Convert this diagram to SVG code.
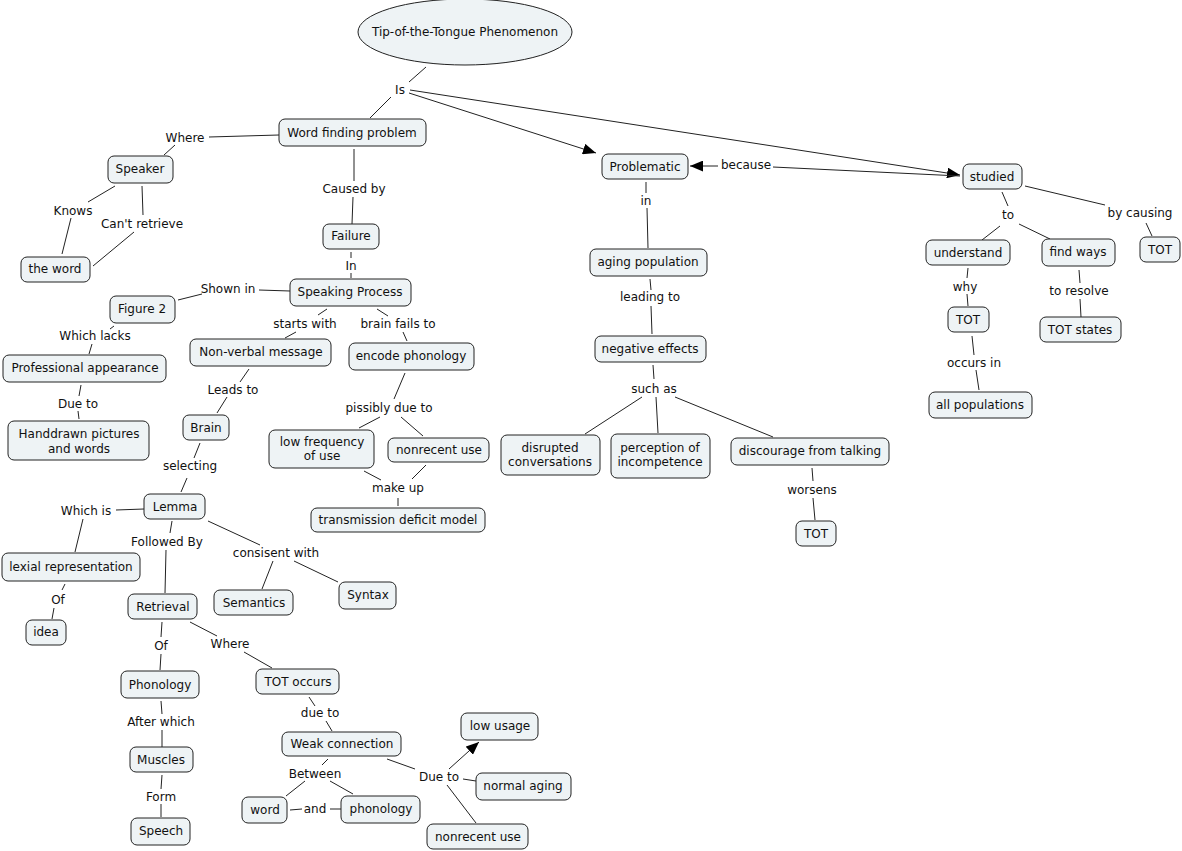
<svg xmlns="http://www.w3.org/2000/svg" width="1182" height="851" viewBox="0 0 1182 851">
<style>
.n{fill:#eef3f5;stroke:#222;stroke-width:1}
text{font-family:"DejaVu Sans",Verdana,sans-serif;font-size:12px;text-anchor:middle;fill:#111}
.c line{stroke:#222;stroke-width:1}
.a{marker-end:url(#arr)}
</style>
<defs>
<marker id="arr" viewBox="0 0 12 10" refX="12" refY="5" markerWidth="13" markerHeight="11" markerUnits="userSpaceOnUse" orient="auto">
<path d="M0,0 L12,5 L0,10 z" fill="#000"/>
</marker>
</defs>
<rect width="1182" height="851" fill="#fff"/>
<g class="c" id="connectors">
<line x1="426" y1="67" x2="409" y2="82"/>
<line x1="391" y1="97" x2="370" y2="118"/>
<line class="a" x1="409" y1="93" x2="596" y2="153"/>
<line class="a" x1="410" y1="90" x2="960" y2="175"/>
<line x1="279" y1="135" x2="209" y2="137"/>
<line x1="175" y1="145" x2="164" y2="155"/>
<line x1="354" y1="149" x2="354" y2="181"/>
<line x1="353" y1="197" x2="352" y2="224"/>
<line x1="115" y1="186" x2="88" y2="202"/>
<line x1="71" y1="218" x2="62" y2="254"/>
<line x1="142" y1="186" x2="143" y2="215"/>
<line x1="134" y1="232" x2="93" y2="266"/>
<line x1="351" y1="252" x2="351" y2="258"/>
<line x1="351" y1="273" x2="351" y2="278"/>
<line x1="290" y1="291" x2="259" y2="290"/>
<line x1="202" y1="294" x2="178" y2="300"/>
<line x1="114" y1="326" x2="110" y2="329"/>
<line x1="92" y1="344" x2="89" y2="354"/>
<line x1="81" y1="385" x2="79" y2="396"/>
<line x1="78" y1="411" x2="79" y2="419"/>
<line x1="327" y1="309" x2="318" y2="315"/>
<line x1="296" y1="332" x2="285" y2="338"/>
<line x1="377" y1="309" x2="388" y2="316"/>
<line x1="403" y1="332" x2="407" y2="341"/>
<line x1="249" y1="369" x2="240" y2="382"/>
<line x1="227" y1="397" x2="217" y2="413"/>
<line x1="405" y1="373" x2="394" y2="399"/>
<line x1="380" y1="417" x2="359" y2="428"/>
<line x1="401" y1="417" x2="423" y2="436"/>
<line x1="200" y1="443" x2="194" y2="458"/>
<line x1="187" y1="478" x2="181" y2="492"/>
<line x1="364" y1="471" x2="381" y2="480"/>
<line x1="426" y1="465" x2="412" y2="479"/>
<line x1="398" y1="498" x2="398" y2="506"/>
<line x1="144" y1="509" x2="116" y2="510"/>
<line x1="83" y1="519" x2="75" y2="552"/>
<line x1="172" y1="521" x2="170" y2="533"/>
<line x1="166" y1="550" x2="165" y2="593"/>
<line x1="208" y1="521" x2="260" y2="545"/>
<line x1="273" y1="561" x2="262" y2="589"/>
<line x1="294" y1="561" x2="338" y2="582"/>
<line x1="65" y1="584" x2="62" y2="590"/>
<line x1="54" y1="608" x2="52" y2="619"/>
<line x1="162" y1="622" x2="161" y2="637"/>
<line x1="161" y1="654" x2="160" y2="670"/>
<line x1="190" y1="622" x2="217" y2="636"/>
<line x1="244" y1="652" x2="272" y2="668"/>
<line x1="161" y1="701" x2="162" y2="714"/>
<line x1="162" y1="730" x2="162" y2="747"/>
<line x1="162" y1="775" x2="161" y2="789"/>
<line x1="161" y1="804" x2="161" y2="817"/>
<line x1="309" y1="697" x2="315" y2="706"/>
<line x1="326" y1="721" x2="332" y2="731"/>
<line x1="328" y1="759" x2="322" y2="765"/>
<line x1="305" y1="781" x2="286" y2="796"/>
<line x1="330" y1="781" x2="353" y2="794"/>
<line x1="290" y1="810" x2="302" y2="809"/>
<line x1="330" y1="809" x2="341" y2="809"/>
<line x1="387" y1="759" x2="415" y2="769"/>
<line class="a" x1="449" y1="769" x2="479" y2="742"/>
<line x1="463" y1="779" x2="476" y2="781"/>
<line x1="447" y1="785" x2="476" y2="823"/>
<line x1="960" y1="176" x2="773" y2="167"/>
<line class="a" x1="718" y1="166" x2="690" y2="166"/>
<line x1="646" y1="182" x2="646" y2="193"/>
<line x1="647" y1="208" x2="648" y2="248"/>
<line x1="650" y1="279" x2="651" y2="290"/>
<line x1="651" y1="306" x2="652" y2="334"/>
<line x1="653" y1="365" x2="654" y2="379"/>
<line x1="642" y1="397" x2="585" y2="434"/>
<line x1="656" y1="397" x2="658" y2="433"/>
<line x1="675" y1="397" x2="773" y2="437"/>
<line x1="812" y1="468" x2="813" y2="481"/>
<line x1="813" y1="498" x2="815" y2="520"/>
<line x1="1002" y1="192" x2="1008" y2="206"/>
<line x1="1000" y1="226" x2="982" y2="240"/>
<line x1="1019" y1="224" x2="1050" y2="239"/>
<line x1="1025" y1="186" x2="1105" y2="205"/>
<line x1="1146" y1="223" x2="1152" y2="236"/>
<line x1="968" y1="268" x2="967" y2="278"/>
<line x1="967" y1="294" x2="968" y2="306"/>
<line x1="1079" y1="270" x2="1080" y2="283"/>
<line x1="1080" y1="299" x2="1081" y2="317"/>
<line x1="972" y1="336" x2="974" y2="355"/>
<line x1="976" y1="370" x2="979" y2="390"/>
</g>
<g id="labels">
<text x="400" y="94">Is</text>
<text x="185" y="142">Where</text>
<text x="354" y="193">Caused by</text>
<text x="73" y="215">Knows</text>
<text x="142" y="228">Can't retrieve</text>
<text x="351" y="270">In</text>
<text x="228" y="293">Shown in</text>
<text x="95" y="340">Which lacks</text>
<text x="305" y="328">starts with</text>
<text x="398" y="328">brain fails to</text>
<text x="78" y="408">Due to</text>
<text x="233" y="394">Leads to</text>
<text x="389" y="412">pissibly due to</text>
<text x="190" y="470">selecting</text>
<text x="398" y="492">make up</text>
<text x="86" y="515">Which is</text>
<text x="167" y="546">Followed By</text>
<text x="276" y="557">consisent with</text>
<text x="58" y="604">Of</text>
<text x="161" y="650">Of</text>
<text x="230" y="648">Where</text>
<text x="161" y="726">After which</text>
<text x="320" y="717">due to</text>
<text x="161" y="801">Form</text>
<text x="315" y="778">Between</text>
<text x="315" y="813">and</text>
<text x="439" y="781">Due to</text>
<text x="746" y="169">because</text>
<text x="646" y="205">in</text>
<text x="650" y="301">leading to</text>
<text x="654" y="393">such as</text>
<text x="812" y="494">worsens</text>
<text x="1008" y="219">to</text>
<text x="1140" y="217">by causing</text>
<text x="965" y="291">why</text>
<text x="1079" y="295">to resolve</text>
<text x="974" y="367">occurs in</text>
</g>
<g id="n-tot"><ellipse class="n" cx="465" cy="32" rx="107" ry="33"/><text x="465" y="36">Tip-of-the-Tongue Phenomenon</text></g>
<g id="n-wfp"><rect class="n" x="279" y="119" width="147" height="27" rx="6"/><text x="352" y="137">Word finding problem</text></g>
<g id="n-speaker"><rect class="n" x="108" y="156" width="65" height="27" rx="6"/><text x="140" y="173">Speaker</text></g>
<g id="n-theword"><rect class="n" x="21" y="257" width="69" height="25" rx="6"/><text x="55" y="273">the word</text></g>
<g id="n-failure"><rect class="n" x="323" y="224" width="56" height="25" rx="6"/><text x="351" y="240">Failure</text></g>
<g id="n-sp"><rect class="n" x="290" y="279" width="121" height="27" rx="6"/><text x="350" y="296">Speaking Process</text></g>
<g id="n-fig2"><rect class="n" x="110" y="296" width="65" height="27" rx="6"/><text x="142" y="313">Figure 2</text></g>
<g id="n-prof"><rect class="n" x="3" y="355" width="163" height="27" rx="6"/><text x="85" y="372">Professional appearance</text></g>
<g id="n-hand"><rect class="n" x="8" y="421" width="141" height="39" rx="6"/><text x="79" y="438">Handdrawn pictures</text><text x="79" y="453">and words</text></g>
<g id="n-nvm"><rect class="n" x="190" y="339" width="141" height="27" rx="6"/><text x="261" y="356">Non-verbal message</text></g>
<g id="n-encode"><rect class="n" x="349" y="343" width="125" height="27" rx="6"/><text x="411" y="360">encode phonology</text></g>
<g id="n-brain"><rect class="n" x="183" y="415" width="46" height="25" rx="6"/><text x="206" y="432">Brain</text></g>
<g id="n-lowfreq"><rect class="n" x="269" y="430" width="105" height="38" rx="6"/><text x="322" y="446">low frequency</text><text x="322" y="460">of use</text></g>
<g id="n-nonrecent1"><rect class="n" x="388" y="438" width="101" height="24" rx="6"/><text x="439" y="454">nonrecent use</text></g>
<g id="n-tdm"><rect class="n" x="311" y="508" width="174" height="24" rx="6"/><text x="398" y="524">transmission deficit model</text></g>
<g id="n-lemma"><rect class="n" x="144" y="494" width="61" height="25" rx="6"/><text x="175" y="511">Lemma</text></g>
<g id="n-lexial"><rect class="n" x="2" y="553" width="138" height="28" rx="6"/><text x="71" y="571">lexial representation</text></g>
<g id="n-idea"><rect class="n" x="26" y="620" width="40" height="25" rx="6"/><text x="46" y="636">idea</text></g>
<g id="n-retrieval"><rect class="n" x="128" y="594" width="69" height="25" rx="6"/><text x="163" y="611">Retrieval</text></g>
<g id="n-semantics"><rect class="n" x="214" y="590" width="79" height="25" rx="6"/><text x="254" y="607">Semantics</text></g>
<g id="n-syntax"><rect class="n" x="339" y="582" width="57" height="27" rx="6"/><text x="368" y="599">Syntax</text></g>
<g id="n-phonology"><rect class="n" x="121" y="671" width="78" height="27" rx="6"/><text x="160" y="689">Phonology</text></g>
<g id="n-totoccurs"><rect class="n" x="256" y="669" width="83" height="25" rx="6"/><text x="298" y="686">TOT occurs</text></g>
<g id="n-muscles"><rect class="n" x="130" y="747" width="63" height="25" rx="6"/><text x="161" y="764">Muscles</text></g>
<g id="n-speech"><rect class="n" x="131" y="818" width="59" height="27" rx="6"/><text x="161" y="835">Speech</text></g>
<g id="n-weak"><rect class="n" x="282" y="732" width="119" height="24" rx="6"/><text x="342" y="748">Weak connection</text></g>
<g id="n-lowusage"><rect class="n" x="461" y="713" width="77" height="27" rx="6"/><text x="500" y="730">low usage</text></g>
<g id="n-normal"><rect class="n" x="476" y="773" width="95" height="27" rx="6"/><text x="523" y="790">normal aging</text></g>
<g id="n-word"><rect class="n" x="242" y="797" width="45" height="26" rx="6"/><text x="265" y="814">word</text></g>
<g id="n-phon2"><rect class="n" x="341" y="796" width="79" height="27" rx="6"/><text x="381" y="813">phonology</text></g>
<g id="n-nonrecent2"><rect class="n" x="427" y="824" width="101" height="25" rx="6"/><text x="478" y="841">nonrecent use</text></g>
<g id="n-problematic"><rect class="n" x="602" y="154" width="86" height="25" rx="6"/><text x="645" y="171">Problematic</text></g>
<g id="n-studied"><rect class="n" x="963" y="164" width="59" height="25" rx="6"/><text x="992" y="181">studied</text></g>
<g id="n-aging"><rect class="n" x="590" y="249" width="117" height="27" rx="6"/><text x="648" y="266">aging population</text></g>
<g id="n-neg"><rect class="n" x="595" y="336" width="111" height="26" rx="6"/><text x="650" y="353">negative effects</text></g>
<g id="n-understand"><rect class="n" x="926" y="240" width="84" height="25" rx="6"/><text x="968" y="257">understand</text></g>
<g id="n-findways"><rect class="n" x="1042" y="239" width="73" height="27" rx="6"/><text x="1078" y="256">find ways</text></g>
<g id="n-tot-r"><rect class="n" x="1140" y="237" width="40" height="25" rx="6"/><text x="1160" y="254">TOT</text></g>
<g id="n-tot-u"><rect class="n" x="948" y="307" width="41" height="25" rx="6"/><text x="968" y="324">TOT</text></g>
<g id="n-totstates"><rect class="n" x="1040" y="317" width="81" height="25" rx="6"/><text x="1080" y="334">TOT states</text></g>
<g id="n-allpop"><rect class="n" x="929" y="392" width="103" height="26" rx="6"/><text x="980" y="409">all populations</text></g>
<g id="n-disrupted"><rect class="n" x="501" y="435" width="99" height="40" rx="6"/><text x="550" y="452">disrupted</text><text x="550" y="466">conversations</text></g>
<g id="n-perception"><rect class="n" x="611" y="434" width="99" height="44" rx="6"/><text x="660" y="452">perception of</text><text x="660" y="466">incompetence</text></g>
<g id="n-discourage"><rect class="n" x="731" y="438" width="158" height="27" rx="6"/><text x="810" y="455">discourage from talking</text></g>
<g id="n-tot-b"><rect class="n" x="796" y="521" width="40" height="25" rx="6"/><text x="816" y="538">TOT</text></g>
</svg>
